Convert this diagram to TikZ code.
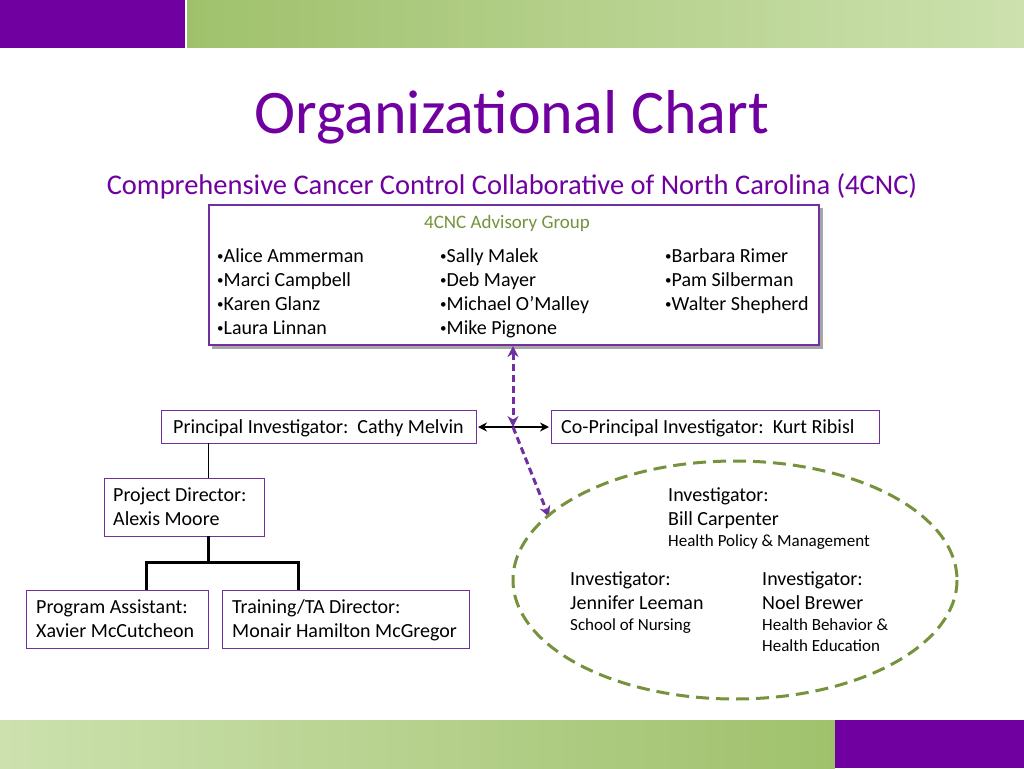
\documentclass[tikz,border=0pt]{standalone}
\usepackage{fontspec}
\setmainfont{Carlito}
\usetikzlibrary{arrows.meta,shadows}
\definecolor{pur}{RGB}{112,0,160}
\definecolor{boxp}{RGB}{112,48,160}
\definecolor{grn}{RGB}{118,146,60}
\definecolor{lgrn}{RGB}{170,205,120}
\begin{document}
\begin{tikzpicture}[x=1pt,y=-1pt,
  box/.style={draw=boxp,line width=1pt,fill=white},
  t/.style={anchor=base west,yshift=-6pt,font=\fontsize{20}{20}\selectfont,inner sep=0pt},
  s/.style={anchor=base west,yshift=-5pt,font=\fontsize{17}{17}\selectfont,inner sep=0pt}]
\useasboundingbox (0,0) rectangle (1024,768);
\fill[white] (0,0) rectangle (1024,768);
\fill[pur] (0,0) rectangle (185,48);
\shade[left color=lgrn!80!grn, right color=lgrn!60] (187,0) rectangle (1024,48);
\shade[left color=lgrn!60, right color=lgrn!80!grn] (0,720) rectangle (835,768);
\fill[pur] (835,720) rectangle (1024,768);
\node[text=pur,font=\fontsize{62}{62}\selectfont] (title) at (512,117) {Organizational Chart};
\node[text=pur,font=\fontsize{28.5}{28.5}\selectfont] (sub) at (512,186) {Comprehensive Cancer Control Collaborative of North Carolina (4CNC)};
\fill[black!35] (212,208) rectangle (823,349);
\draw[box,line width=1.8pt] (209,205) rectangle (819,345);
\coordinate (advb) at (513,346);
\node[text=grn,anchor=base,yshift=-6pt,font=\fontsize{19}{19}\selectfont] (adv) at (507,222) {4CNC Advisory Group};
\newcommand{\bl}{\raisebox{0.15ex}{\fontsize{13}{13}\selectfont•}}
\node[t] (a1) at (217,256) {\bl Alice Ammerman};
\node[t] (a2) at (217,280) {\bl Marci Campbell};
\node[t] (a3) at (217,304) {\bl Karen Glanz};
\node[t] (a4) at (217,328) {\bl Laura Linnan};
\node[t] (b1) at (440,256) {\bl Sally Malek};
\node[t] (b2) at (440,280) {\bl Deb Mayer};
\node[t] (b3) at (440,304) {\bl Michael O’Malley};
\node[t] (b4) at (440,328) {\bl Mike Pignone};
\node[t] (c1) at (665,256) {\bl Barbara Rimer};
\node[t] (c2) at (665,280) {\bl Pam Silberman};
\node[t] (c3) at (665,304) {\bl Walter Shepherd};
\draw[box] (161,410) rectangle (476,443);
\node[t] (pi) at (173,427) {Principal Investigator:\ \ Cathy Melvin};
\draw[box] (551,410) rectangle (879,443);
\node[t] (copi) at (561,427) {Co-Principal Investigator:\ \ Kurt Ribisl};
\coordinate (pie) at (478,427); \coordinate (copie) at (549,427);
\draw[line width=2pt,{Stealth[length=9pt,width=9pt]}-{Stealth[length=9pt,width=9pt]}] (pie) -- (copie);
\coordinate (mid) at (513,427);
\draw[boxp,line width=3pt,dash pattern=on 7pt off 4pt,{Stealth[length=11pt,width=11pt]}-{Stealth[length=11pt,width=11pt]}] (advb) -- (mid);
\coordinate (ell) at (549,517);
\draw[boxp,line width=3pt,dash pattern=on 7pt off 4pt,-{Stealth[length=11pt,width=11pt]}] (mid) -- (ell);
\draw[box] (104,478) rectangle (264,536);
\node[t] (pd1) at (113,495) {Project Director:};
\node[t] (pd2) at (113,519) {Alexis Moore};
\draw[line width=1pt] (208,443) -- (208,478);
\draw[line width=3pt] (208,536) -- (208,562);
\draw[line width=3pt] (146,590) -- (146,562) -- (298,562) -- (298,590);
\draw[box] (26,590) rectangle (208,648);
\node[t] (pa1) at (36,607) {Program Assistant:};
\node[t] (pa2) at (36,631) {Xavier McCutcheon};
\draw[box] (222,590) rectangle (469,648);
\node[t] (tr1) at (232,607) {Training/TA Director:};
\node[t] (tr2) at (232,631) {Monair Hamilton McGregor};
\draw[grn,line width=3pt,dash pattern=on 13pt off 7pt] (735,580) ellipse (222 and 119);
\node[t] (i1) at (668,495) {Investigator:};
\node[t] (i2) at (668,519) {Bill Carpenter};
\node[s] (i3) at (668,541) {Health Policy \& Management};
\node[t] (j1) at (570,579) {Investigator:};
\node[t] (j2) at (570,603) {Jennifer Leeman};
\node[s] (j3) at (570,625) {School of Nursing};
\node[t] (n1) at (762,579) {Investigator:};
\node[t] (n2) at (762,603) {Noel Brewer};
\node[s] (n3) at (762,625) {Health Behavior \&};
\node[s] (n4) at (762,646) {Health Education};
\end{tikzpicture}
\end{document}
